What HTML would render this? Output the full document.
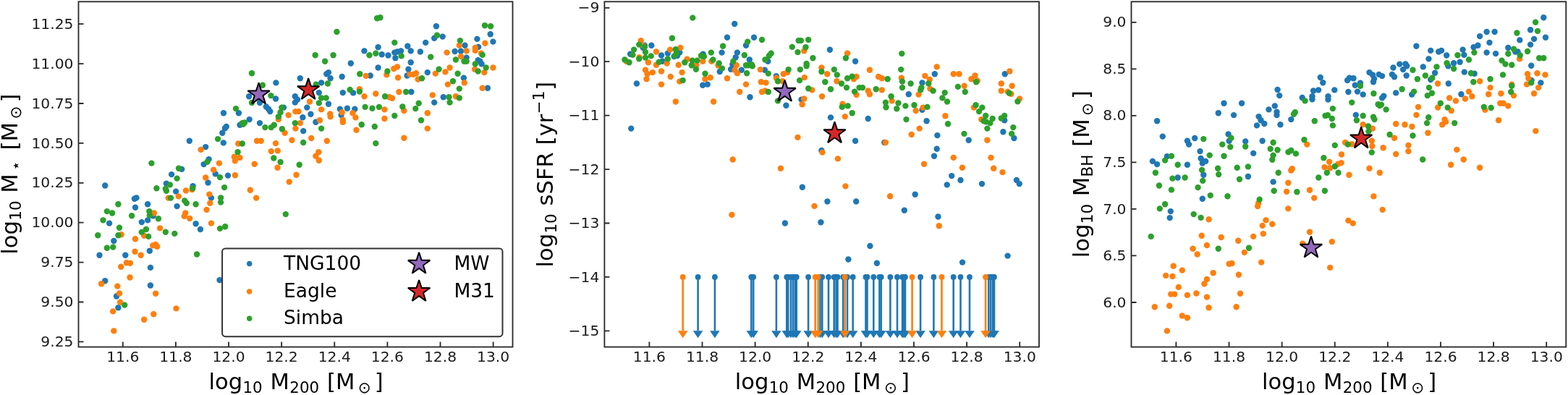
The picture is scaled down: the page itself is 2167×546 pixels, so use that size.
<!DOCTYPE html>
<html><head><meta charset="utf-8"><style>
html,body{margin:0;padding:0;background:#fff;}
svg{display:block;font-family:'DejaVu Sans', 'Liberation Sans', sans-serif;}
</style></head><body>
<svg width="2167" height="546" viewBox="0 0 2167 546">
<rect width="2167" height="546" fill="#fff"/>
<clipPath id="c0"><rect x="108.5" y="2.3" width="600.0" height="477.3"/></clipPath>
<g clip-path="url(#c0)">
<g fill="#1f77b4">
<circle cx="145.2" cy="256.5" r="4.2"/>
<circle cx="237.1" cy="241.1" r="4.2"/>
<circle cx="229.9" cy="253.6" r="4.2"/>
<circle cx="243.1" cy="264.6" r="4.2"/>
<circle cx="185.9" cy="274.7" r="4.2"/>
<circle cx="188.5" cy="273.4" r="4.2"/>
<circle cx="204.1" cy="282.2" r="4.2"/>
<circle cx="187.0" cy="286.8" r="4.2"/>
<circle cx="244.6" cy="285.1" r="4.2"/>
<circle cx="151.1" cy="308.6" r="4.2"/>
<circle cx="195.8" cy="307.1" r="4.2"/>
<circle cx="204.1" cy="304.4" r="4.2"/>
<circle cx="211.6" cy="298.3" r="4.2"/>
<circle cx="157.3" cy="333.0" r="4.2"/>
<circle cx="137.5" cy="352.8" r="4.2"/>
<circle cx="173.3" cy="352.8" r="4.2"/>
<circle cx="206.8" cy="346.7" r="4.2"/>
<circle cx="145.2" cy="388.2" r="4.2"/>
<circle cx="207.9" cy="369.9" r="4.2"/>
<circle cx="207.9" cy="394.5" r="4.2"/>
<circle cx="161.0" cy="409.5" r="4.2"/>
<circle cx="163.4" cy="425.3" r="4.2"/>
<circle cx="251.2" cy="233.9" r="4.2"/>
<circle cx="344.2" cy="133.2" r="4.2"/>
<circle cx="359.0" cy="142.0" r="4.2"/>
<circle cx="367.8" cy="147.5" r="4.2"/>
<circle cx="371.1" cy="150.8" r="4.2"/>
<circle cx="373.3" cy="154.1" r="4.2"/>
<circle cx="381.0" cy="136.5" r="4.2"/>
<circle cx="407.8" cy="133.2" r="4.2"/>
<circle cx="407.8" cy="141.6" r="4.2"/>
<circle cx="309.0" cy="156.3" r="4.2"/>
<circle cx="329.9" cy="156.3" r="4.2"/>
<circle cx="344.7" cy="165.1" r="4.2"/>
<circle cx="359.0" cy="170.1" r="4.2"/>
<circle cx="331.5" cy="172.8" r="4.2"/>
<circle cx="312.8" cy="175.0" r="4.2"/>
<circle cx="311.0" cy="177.2" r="4.2"/>
<circle cx="307.3" cy="183.8" r="4.2"/>
<circle cx="308.8" cy="197.4" r="4.2"/>
<circle cx="261.8" cy="194.8" r="4.2"/>
<circle cx="284.2" cy="203.1" r="4.2"/>
<circle cx="288.6" cy="220.1" r="4.2"/>
<circle cx="281.6" cy="227.1" r="4.2"/>
<circle cx="392.0" cy="148.6" r="4.2"/>
<circle cx="297.8" cy="240.4" r="4.2"/>
<circle cx="315.0" cy="242.6" r="4.2"/>
<circle cx="287.5" cy="252.5" r="4.2"/>
<circle cx="266.6" cy="257.2" r="4.2"/>
<circle cx="291.9" cy="273.6" r="4.2"/>
<circle cx="270.6" cy="309.3" r="4.2"/>
<circle cx="276.9" cy="317.0" r="4.2"/>
<circle cx="303.5" cy="387.1" r="4.2"/>
<circle cx="381.4" cy="114.4" r="4.2"/>
<circle cx="522.6" cy="65.3" r="4.2"/>
<circle cx="503.5" cy="70.4" r="4.2"/>
<circle cx="527.7" cy="75.2" r="4.2"/>
<circle cx="536.5" cy="76.5" r="4.2"/>
<circle cx="545.3" cy="72.6" r="4.2"/>
<circle cx="549.0" cy="71.5" r="4.2"/>
<circle cx="554.1" cy="70.4" r="4.2"/>
<circle cx="546.4" cy="80.3" r="4.2"/>
<circle cx="484.8" cy="87.5" r="4.2"/>
<circle cx="522.6" cy="93.5" r="4.2"/>
<circle cx="454.0" cy="100.1" r="4.2"/>
<circle cx="451.3" cy="102.3" r="4.2"/>
<circle cx="456.6" cy="108.2" r="4.2"/>
<circle cx="472.7" cy="106.0" r="4.2"/>
<circle cx="511.8" cy="104.5" r="4.2"/>
<circle cx="414.8" cy="108.2" r="4.2"/>
<circle cx="444.1" cy="114.4" r="4.2"/>
<circle cx="440.8" cy="128.1" r="4.2"/>
<circle cx="473.8" cy="128.1" r="4.2"/>
<circle cx="488.1" cy="128.4" r="4.2"/>
<circle cx="454.0" cy="143.8" r="4.2"/>
<circle cx="411.1" cy="137.6" r="4.2"/>
<circle cx="424.3" cy="148.6" r="4.2"/>
<circle cx="429.4" cy="157.8" r="4.2"/>
<circle cx="418.4" cy="162.2" r="4.2"/>
<circle cx="436.4" cy="168.8" r="4.2"/>
<circle cx="419.2" cy="181.1" r="4.2"/>
<circle cx="469.8" cy="150.8" r="4.2"/>
<circle cx="479.9" cy="149.7" r="4.2"/>
<circle cx="490.3" cy="150.8" r="4.2"/>
<circle cx="471.6" cy="159.1" r="4.2"/>
<circle cx="602.9" cy="36.3" r="4.2"/>
<circle cx="611.7" cy="50.6" r="4.2"/>
<circle cx="600.2" cy="52.8" r="4.2"/>
<circle cx="588.2" cy="58.9" r="4.2"/>
<circle cx="563.3" cy="63.8" r="4.2"/>
<circle cx="567.7" cy="70.4" r="4.2"/>
<circle cx="580.9" cy="71.5" r="4.2"/>
<circle cx="659.4" cy="53.9" r="4.2"/>
<circle cx="677.7" cy="47.3" r="4.2"/>
<circle cx="681.4" cy="57.6" r="4.2"/>
<circle cx="661.2" cy="64.9" r="4.2"/>
<circle cx="642.5" cy="62.7" r="4.2"/>
<circle cx="628.6" cy="71.0" r="4.2"/>
<circle cx="637.0" cy="70.8" r="4.2"/>
<circle cx="644.7" cy="79.6" r="4.2"/>
<circle cx="567.7" cy="86.2" r="4.2"/>
<circle cx="564.4" cy="95.7" r="4.2"/>
<circle cx="562.6" cy="104.5" r="4.2"/>
<circle cx="590.8" cy="100.1" r="4.2"/>
<circle cx="660.7" cy="83.1" r="4.2"/>
<circle cx="663.4" cy="84.7" r="4.2"/>
<circle cx="665.6" cy="88.4" r="4.2"/>
<circle cx="640.9" cy="107.8" r="4.2"/>
<circle cx="568.4" cy="127.0" r="4.2"/>
<circle cx="612.8" cy="134.3" r="4.2"/>
<circle cx="600.2" cy="141.6" r="4.2"/>
<circle cx="673.9" cy="121.8" r="4.2"/>
</g>
<g fill="#ff7f0e">
<circle cx="256.9" cy="263.5" r="4.2"/>
<circle cx="246.8" cy="271.4" r="4.2"/>
<circle cx="232.7" cy="273.6" r="4.2"/>
<circle cx="212.9" cy="294.5" r="4.2"/>
<circle cx="256.3" cy="294.5" r="4.2"/>
<circle cx="254.7" cy="298.9" r="4.2"/>
<circle cx="221.1" cy="315.4" r="4.2"/>
<circle cx="167.6" cy="324.2" r="4.2"/>
<circle cx="187.0" cy="330.2" r="4.2"/>
<circle cx="199.1" cy="325.8" r="4.2"/>
<circle cx="211.2" cy="339.4" r="4.2"/>
<circle cx="215.1" cy="337.9" r="4.2"/>
<circle cx="217.1" cy="340.7" r="4.2"/>
<circle cx="186.5" cy="347.8" r="4.2"/>
<circle cx="194.7" cy="352.8" r="4.2"/>
<circle cx="140.1" cy="392.3" r="4.2"/>
<circle cx="167.2" cy="368.8" r="4.2"/>
<circle cx="174.9" cy="363.3" r="4.2"/>
<circle cx="179.9" cy="363.7" r="4.2"/>
<circle cx="179.5" cy="383.5" r="4.2"/>
<circle cx="162.3" cy="395.6" r="4.2"/>
<circle cx="165.0" cy="405.5" r="4.2"/>
<circle cx="166.1" cy="417.8" r="4.2"/>
<circle cx="156.2" cy="430.4" r="4.2"/>
<circle cx="212.3" cy="434.3" r="4.2"/>
<circle cx="199.1" cy="441.8" r="4.2"/>
<circle cx="157.3" cy="457.4" r="4.2"/>
<circle cx="215.1" cy="405.7" r="4.2"/>
<circle cx="243.5" cy="426.4" r="4.2"/>
<circle cx="398.6" cy="159.1" r="4.2"/>
<circle cx="408.4" cy="154.1" r="4.2"/>
<circle cx="384.9" cy="165.1" r="4.2"/>
<circle cx="408.4" cy="177.6" r="4.2"/>
<circle cx="393.7" cy="183.8" r="4.2"/>
<circle cx="403.4" cy="193.7" r="4.2"/>
<circle cx="355.0" cy="194.8" r="4.2"/>
<circle cx="360.7" cy="194.8" r="4.2"/>
<circle cx="329.3" cy="198.5" r="4.2"/>
<circle cx="381.0" cy="198.1" r="4.2"/>
<circle cx="277.6" cy="206.9" r="4.2"/>
<circle cx="374.8" cy="209.1" r="4.2"/>
<circle cx="383.8" cy="208.4" r="4.2"/>
<circle cx="323.8" cy="216.8" r="4.2"/>
<circle cx="331.5" cy="217.9" r="4.2"/>
<circle cx="324.9" cy="222.3" r="4.2"/>
<circle cx="302.9" cy="225.6" r="4.2"/>
<circle cx="351.7" cy="226.7" r="4.2"/>
<circle cx="383.6" cy="231.7" r="4.2"/>
<circle cx="295.2" cy="234.8" r="4.2"/>
<circle cx="284.2" cy="245.5" r="4.2"/>
<circle cx="324.9" cy="242.2" r="4.2"/>
<circle cx="265.5" cy="262.0" r="4.2"/>
<circle cx="289.3" cy="268.6" r="4.2"/>
<circle cx="290.3" cy="280.7" r="4.2"/>
<circle cx="285.5" cy="289.9" r="4.2"/>
<circle cx="262.2" cy="302.0" r="4.2"/>
<circle cx="291.9" cy="308.6" r="4.2"/>
<circle cx="345.8" cy="262.7" r="4.2"/>
<circle cx="354.1" cy="273.6" r="4.2"/>
<circle cx="399.7" cy="251.4" r="4.2"/>
<circle cx="409.5" cy="241.8" r="4.2"/>
<circle cx="505.7" cy="104.9" r="4.2"/>
<circle cx="534.3" cy="103.4" r="4.2"/>
<circle cx="544.2" cy="95.0" r="4.2"/>
<circle cx="549.0" cy="92.4" r="4.2"/>
<circle cx="550.1" cy="107.3" r="4.2"/>
<circle cx="428.0" cy="140.5" r="4.2"/>
<circle cx="444.1" cy="151.4" r="4.2"/>
<circle cx="412.6" cy="154.1" r="4.2"/>
<circle cx="456.2" cy="157.4" r="4.2"/>
<circle cx="456.6" cy="161.3" r="4.2"/>
<circle cx="441.9" cy="166.2" r="4.2"/>
<circle cx="414.8" cy="170.1" r="4.2"/>
<circle cx="472.7" cy="155.2" r="4.2"/>
<circle cx="473.8" cy="165.7" r="4.2"/>
<circle cx="473.8" cy="168.8" r="4.2"/>
<circle cx="487.4" cy="156.3" r="4.2"/>
<circle cx="491.4" cy="162.4" r="4.2"/>
<circle cx="503.5" cy="133.2" r="4.2"/>
<circle cx="519.3" cy="129.5" r="4.2"/>
<circle cx="496.9" cy="123.3" r="4.2"/>
<circle cx="538.2" cy="134.3" r="4.2"/>
<circle cx="542.0" cy="135.8" r="4.2"/>
<circle cx="551.4" cy="127.0" r="4.2"/>
<circle cx="531.4" cy="151.4" r="4.2"/>
<circle cx="531.4" cy="164.0" r="4.2"/>
<circle cx="492.5" cy="179.8" r="4.2"/>
<circle cx="430.2" cy="191.0" r="4.2"/>
<circle cx="451.8" cy="194.8" r="4.2"/>
<circle cx="440.3" cy="210.2" r="4.2"/>
<circle cx="436.4" cy="215.7" r="4.2"/>
<circle cx="440.8" cy="221.8" r="4.2"/>
<circle cx="558.4" cy="190.8" r="4.2"/>
<circle cx="558.4" cy="153.0" r="4.2"/>
<circle cx="634.8" cy="62.7" r="4.2"/>
<circle cx="644.7" cy="70.4" r="4.2"/>
<circle cx="617.6" cy="72.6" r="4.2"/>
<circle cx="656.8" cy="66.0" r="4.2"/>
<circle cx="656.8" cy="69.9" r="4.2"/>
<circle cx="670.4" cy="59.8" r="4.2"/>
<circle cx="665.1" cy="73.7" r="4.2"/>
<circle cx="637.0" cy="78.1" r="4.2"/>
<circle cx="621.6" cy="93.5" r="4.2"/>
<circle cx="615.4" cy="99.4" r="4.2"/>
<circle cx="601.8" cy="101.6" r="4.2"/>
<circle cx="566.6" cy="102.9" r="4.2"/>
<circle cx="571.0" cy="102.9" r="4.2"/>
<circle cx="575.0" cy="101.2" r="4.2"/>
<circle cx="577.6" cy="109.5" r="4.2"/>
<circle cx="656.1" cy="95.7" r="4.2"/>
<circle cx="669.3" cy="100.1" r="4.2"/>
<circle cx="681.4" cy="93.5" r="4.2"/>
<circle cx="641.8" cy="114.4" r="4.2"/>
<circle cx="618.9" cy="116.6" r="4.2"/>
<circle cx="597.8" cy="131.4" r="4.2"/>
<circle cx="629.9" cy="133.2" r="4.2"/>
<circle cx="590.8" cy="156.3" r="4.2"/>
<circle cx="590.8" cy="177.6" r="4.2"/>
<circle cx="666.7" cy="121.8" r="4.2"/>
</g>
<g fill="#2ca02c">
<circle cx="244.6" cy="246.6" r="4.2"/>
<circle cx="234.9" cy="255.4" r="4.2"/>
<circle cx="216.4" cy="260.2" r="4.2"/>
<circle cx="228.8" cy="260.9" r="4.2"/>
<circle cx="229.9" cy="263.8" r="4.2"/>
<circle cx="236.0" cy="273.6" r="4.2"/>
<circle cx="255.2" cy="277.4" r="4.2"/>
<circle cx="257.8" cy="280.7" r="4.2"/>
<circle cx="163.4" cy="282.2" r="4.2"/>
<circle cx="147.8" cy="292.1" r="4.2"/>
<circle cx="155.1" cy="294.5" r="4.2"/>
<circle cx="182.1" cy="298.3" r="4.2"/>
<circle cx="142.5" cy="304.4" r="4.2"/>
<circle cx="206.3" cy="292.1" r="4.2"/>
<circle cx="206.8" cy="297.8" r="4.2"/>
<circle cx="218.9" cy="302.2" r="4.2"/>
<circle cx="165.0" cy="314.8" r="4.2"/>
<circle cx="201.9" cy="317.0" r="4.2"/>
<circle cx="195.8" cy="320.9" r="4.2"/>
<circle cx="135.3" cy="325.3" r="4.2"/>
<circle cx="163.4" cy="325.3" r="4.2"/>
<circle cx="205.2" cy="326.9" r="4.2"/>
<circle cx="228.8" cy="320.7" r="4.2"/>
<circle cx="241.3" cy="322.9" r="4.2"/>
<circle cx="147.8" cy="342.7" r="4.2"/>
<circle cx="156.2" cy="341.6" r="4.2"/>
<circle cx="172.2" cy="421.6" r="4.2"/>
<circle cx="209.4" cy="225.6" r="4.2"/>
<circle cx="247.0" cy="232.8" r="4.2"/>
<circle cx="326.0" cy="150.1" r="4.2"/>
<circle cx="374.4" cy="132.1" r="4.2"/>
<circle cx="348.0" cy="142.0" r="4.2"/>
<circle cx="389.3" cy="148.6" r="4.2"/>
<circle cx="387.6" cy="155.2" r="4.2"/>
<circle cx="384.9" cy="161.3" r="4.2"/>
<circle cx="334.8" cy="170.1" r="4.2"/>
<circle cx="338.1" cy="169.5" r="4.2"/>
<circle cx="335.9" cy="171.7" r="4.2"/>
<circle cx="366.4" cy="176.1" r="4.2"/>
<circle cx="374.8" cy="176.1" r="4.2"/>
<circle cx="378.8" cy="172.8" r="4.2"/>
<circle cx="389.8" cy="178.3" r="4.2"/>
<circle cx="407.8" cy="170.1" r="4.2"/>
<circle cx="301.1" cy="192.1" r="4.2"/>
<circle cx="334.8" cy="198.5" r="4.2"/>
<circle cx="328.6" cy="210.2" r="4.2"/>
<circle cx="378.3" cy="218.5" r="4.2"/>
<circle cx="387.6" cy="224.0" r="4.2"/>
<circle cx="286.4" cy="223.8" r="4.2"/>
<circle cx="304.0" cy="245.1" r="4.2"/>
<circle cx="310.1" cy="259.1" r="4.2"/>
<circle cx="266.2" cy="260.2" r="4.2"/>
<circle cx="305.1" cy="273.4" r="4.2"/>
<circle cx="305.1" cy="279.6" r="4.2"/>
<circle cx="270.6" cy="282.2" r="4.2"/>
<circle cx="394.8" cy="296.1" r="4.2"/>
<circle cx="304.0" cy="315.9" r="4.2"/>
<circle cx="311.2" cy="313.2" r="4.2"/>
<circle cx="272.1" cy="351.5" r="4.2"/>
<circle cx="348.0" cy="101.2" r="4.2"/>
<circle cx="362.9" cy="117.7" r="4.2"/>
<circle cx="521.1" cy="25.3" r="4.2"/>
<circle cx="525.5" cy="24.2" r="4.2"/>
<circle cx="465.4" cy="44.0" r="4.2"/>
<circle cx="545.3" cy="58.9" r="4.2"/>
<circle cx="435.7" cy="76.3" r="4.2"/>
<circle cx="460.6" cy="76.3" r="4.2"/>
<circle cx="449.1" cy="84.7" r="4.2"/>
<circle cx="510.5" cy="76.3" r="4.2"/>
<circle cx="519.3" cy="73.7" r="4.2"/>
<circle cx="554.7" cy="77.4" r="4.2"/>
<circle cx="497.3" cy="102.3" r="4.2"/>
<circle cx="535.4" cy="98.5" r="4.2"/>
<circle cx="452.9" cy="115.5" r="4.2"/>
<circle cx="436.8" cy="116.6" r="4.2"/>
<circle cx="444.1" cy="135.4" r="4.2"/>
<circle cx="450.7" cy="135.4" r="4.2"/>
<circle cx="440.8" cy="142.4" r="4.2"/>
<circle cx="483.7" cy="124.0" r="4.2"/>
<circle cx="496.9" cy="126.6" r="4.2"/>
<circle cx="532.1" cy="133.2" r="4.2"/>
<circle cx="504.6" cy="147.9" r="4.2"/>
<circle cx="514.5" cy="149.7" r="4.2"/>
<circle cx="523.9" cy="147.9" r="4.2"/>
<circle cx="556.3" cy="147.5" r="4.2"/>
<circle cx="545.3" cy="160.0" r="4.2"/>
<circle cx="499.7" cy="172.3" r="4.2"/>
<circle cx="517.8" cy="175.0" r="4.2"/>
<circle cx="444.1" cy="177.6" r="4.2"/>
<circle cx="419.2" cy="197.0" r="4.2"/>
<circle cx="519.3" cy="198.1" r="4.2"/>
<circle cx="413.7" cy="227.8" r="4.2"/>
<circle cx="604.0" cy="48.8" r="4.2"/>
<circle cx="635.9" cy="56.1" r="4.2"/>
<circle cx="670.0" cy="35.2" r="4.2"/>
<circle cx="678.1" cy="36.3" r="4.2"/>
<circle cx="595.2" cy="78.7" r="4.2"/>
<circle cx="629.9" cy="82.5" r="4.2"/>
<circle cx="641.4" cy="84.7" r="4.2"/>
<circle cx="644.7" cy="84.7" r="4.2"/>
<circle cx="666.7" cy="75.9" r="4.2"/>
<circle cx="656.8" cy="88.4" r="4.2"/>
<circle cx="660.7" cy="98.5" r="4.2"/>
<circle cx="671.7" cy="93.5" r="4.2"/>
<circle cx="606.6" cy="95.7" r="4.2"/>
<circle cx="583.1" cy="108.2" r="4.2"/>
<circle cx="632.6" cy="101.8" r="4.2"/>
<circle cx="626.0" cy="112.2" r="4.2"/>
<circle cx="561.1" cy="127.0" r="4.2"/>
<circle cx="634.8" cy="122.6" r="4.2"/>
<circle cx="620.5" cy="134.3" r="4.2"/>
<circle cx="634.8" cy="135.4" r="4.2"/>
<circle cx="621.6" cy="141.6" r="4.2"/>
<circle cx="578.7" cy="142.7" r="4.2"/>
<circle cx="574.3" cy="150.1" r="4.2"/>
<circle cx="582.0" cy="166.2" r="4.2"/>
</g>
</g>
<clipPath id="c1"><rect x="835.4" y="2.3" width="600.6" height="477.3"/></clipPath>
<g clip-path="url(#c1)">
<g fill="#1f77b4">
<circle cx="900.3" cy="62.7" r="4.2"/>
<circle cx="890.9" cy="62.7" r="4.2"/>
<circle cx="888.7" cy="66.0" r="4.2"/>
<circle cx="871.1" cy="74.8" r="4.2"/>
<circle cx="914.0" cy="76.5" r="4.2"/>
<circle cx="915.5" cy="84.7" r="4.2"/>
<circle cx="922.8" cy="73.7" r="4.2"/>
<circle cx="931.6" cy="78.1" r="4.2"/>
<circle cx="936.0" cy="77.0" r="4.2"/>
<circle cx="939.3" cy="72.6" r="4.2"/>
<circle cx="971.6" cy="74.8" r="4.2"/>
<circle cx="879.9" cy="115.5" r="4.2"/>
<circle cx="971.2" cy="117.7" r="4.2"/>
<circle cx="977.8" cy="116.6" r="4.2"/>
<circle cx="1015.2" cy="33.0" r="4.2"/>
<circle cx="1005.0" cy="51.7" r="4.2"/>
<circle cx="1042.0" cy="51.7" r="4.2"/>
<circle cx="1031.0" cy="62.7" r="4.2"/>
<circle cx="997.6" cy="72.6" r="4.2"/>
<circle cx="1018.9" cy="72.6" r="4.2"/>
<circle cx="1016.7" cy="79.2" r="4.2"/>
<circle cx="1035.8" cy="82.5" r="4.2"/>
<circle cx="1012.3" cy="89.1" r="4.2"/>
<circle cx="1010.1" cy="95.7" r="4.2"/>
<circle cx="994.7" cy="99.0" r="4.2"/>
<circle cx="1024.8" cy="96.8" r="4.2"/>
<circle cx="1056.9" cy="96.8" r="4.2"/>
<circle cx="1061.3" cy="84.7" r="4.2"/>
<circle cx="1072.8" cy="105.1" r="4.2"/>
<circle cx="1146.9" cy="68.8" r="4.2"/>
<circle cx="1182.1" cy="84.7" r="4.2"/>
<circle cx="1274.5" cy="114.4" r="4.2"/>
<circle cx="1291.8" cy="102.3" r="4.2"/>
<circle cx="1388.8" cy="102.3" r="4.2"/>
<circle cx="872.2" cy="177.6" r="4.2"/>
<circle cx="1036.5" cy="134.3" r="4.2"/>
<circle cx="1086.4" cy="145.7" r="4.2"/>
<circle cx="1107.5" cy="137.6" r="4.2"/>
<circle cx="1135.4" cy="208.0" r="4.2"/>
<circle cx="1255.8" cy="130.3" r="4.2"/>
<circle cx="1148.0" cy="162.4" r="4.2"/>
<circle cx="1199.7" cy="164.0" r="4.2"/>
<circle cx="1182.1" cy="194.8" r="4.2"/>
<circle cx="1222.3" cy="197.0" r="4.2"/>
<circle cx="1274.5" cy="151.9" r="4.2"/>
<circle cx="1280.6" cy="167.3" r="4.2"/>
<circle cx="1295.4" cy="187.1" r="4.2"/>
<circle cx="1338.7" cy="193.7" r="4.2"/>
<circle cx="1294.7" cy="205.8" r="4.2"/>
<circle cx="1291.0" cy="215.7" r="4.2"/>
<circle cx="1386.4" cy="182.2" r="4.2"/>
<circle cx="1401.4" cy="191.0" r="4.2"/>
<circle cx="1388.2" cy="166.2" r="4.2"/>
<circle cx="1108.8" cy="258.7" r="4.2"/>
<circle cx="1084.9" cy="308.5" r="4.2"/>
<circle cx="1134.4" cy="307.2" r="4.2"/>
<circle cx="1143.4" cy="278.5" r="4.2"/>
<circle cx="1183.2" cy="278.5" r="4.2"/>
<circle cx="1249.8" cy="290.8" r="4.2"/>
<circle cx="1264.7" cy="268.7" r="4.2"/>
<circle cx="1308.8" cy="255.4" r="4.2"/>
<circle cx="1315.2" cy="243.1" r="4.2"/>
<circle cx="1327.5" cy="249.0" r="4.2"/>
<circle cx="1357.0" cy="254.1" r="4.2"/>
<circle cx="1404.9" cy="249.0" r="4.2"/>
<circle cx="1408.8" cy="254.1" r="4.2"/>
<circle cx="1296.5" cy="299.5" r="4.2"/>
<circle cx="1202.4" cy="340.0" r="4.2"/>
<circle cx="1172.4" cy="358.5" r="4.2"/>
<circle cx="1211.9" cy="363.8" r="4.2"/>
<circle cx="1330.1" cy="362.6" r="4.2"/>
<circle cx="1392.6" cy="353.6" r="4.2"/>
</g>
<g fill="#ff7f0e">
<circle cx="885.8" cy="56.1" r="4.2"/>
<circle cx="889.8" cy="63.8" r="4.2"/>
<circle cx="906.9" cy="71.5" r="4.2"/>
<circle cx="926.1" cy="68.6" r="4.2"/>
<circle cx="940.4" cy="66.0" r="4.2"/>
<circle cx="883.6" cy="79.2" r="4.2"/>
<circle cx="895.9" cy="86.2" r="4.2"/>
<circle cx="906.9" cy="89.7" r="4.2"/>
<circle cx="921.7" cy="87.5" r="4.2"/>
<circle cx="892.0" cy="96.8" r="4.2"/>
<circle cx="894.6" cy="102.3" r="4.2"/>
<circle cx="901.9" cy="100.1" r="4.2"/>
<circle cx="914.0" cy="98.5" r="4.2"/>
<circle cx="893.5" cy="109.3" r="4.2"/>
<circle cx="926.7" cy="106.0" r="4.2"/>
<circle cx="937.7" cy="89.7" r="4.2"/>
<circle cx="942.6" cy="100.1" r="4.2"/>
<circle cx="939.3" cy="112.6" r="4.2"/>
<circle cx="949.6" cy="81.8" r="4.2"/>
<circle cx="962.4" cy="90.2" r="4.2"/>
<circle cx="971.2" cy="84.7" r="4.2"/>
<circle cx="983.3" cy="84.7" r="4.2"/>
<circle cx="974.5" cy="109.3" r="4.2"/>
<circle cx="981.7" cy="107.3" r="4.2"/>
<circle cx="914.0" cy="116.6" r="4.2"/>
<circle cx="865.6" cy="84.7" r="4.2"/>
<circle cx="1017.8" cy="90.2" r="4.2"/>
<circle cx="1015.6" cy="96.8" r="4.2"/>
<circle cx="1018.9" cy="101.2" r="4.2"/>
<circle cx="992.5" cy="90.6" r="4.2"/>
<circle cx="1005.0" cy="108.2" r="4.2"/>
<circle cx="1050.8" cy="96.1" r="4.2"/>
<circle cx="1082.7" cy="102.3" r="4.2"/>
<circle cx="1088.2" cy="100.1" r="4.2"/>
<circle cx="1111.3" cy="70.4" r="4.2"/>
<circle cx="1111.9" cy="107.1" r="4.2"/>
<circle cx="1072.8" cy="107.8" r="4.2"/>
<circle cx="1081.6" cy="112.2" r="4.2"/>
<circle cx="1051.9" cy="113.3" r="4.2"/>
<circle cx="1058.5" cy="114.4" r="4.2"/>
<circle cx="1031.0" cy="116.6" r="4.2"/>
<circle cx="1135.4" cy="93.5" r="4.2"/>
<circle cx="1171.1" cy="73.7" r="4.2"/>
<circle cx="1143.2" cy="102.3" r="4.2"/>
<circle cx="1156.4" cy="112.2" r="4.2"/>
<circle cx="1179.9" cy="109.3" r="4.2"/>
<circle cx="1183.6" cy="106.0" r="4.2"/>
<circle cx="1201.9" cy="96.8" r="4.2"/>
<circle cx="1214.0" cy="106.0" r="4.2"/>
<circle cx="1218.8" cy="108.2" r="4.2"/>
<circle cx="1245.9" cy="107.8" r="4.2"/>
<circle cx="1278.4" cy="104.9" r="4.2"/>
<circle cx="1284.8" cy="110.0" r="4.2"/>
<circle cx="1294.7" cy="92.4" r="4.2"/>
<circle cx="1317.8" cy="102.3" r="4.2"/>
<circle cx="1325.5" cy="102.3" r="4.2"/>
<circle cx="1347.5" cy="104.5" r="4.2"/>
<circle cx="1342.4" cy="109.3" r="4.2"/>
<circle cx="1350.8" cy="111.7" r="4.2"/>
<circle cx="1395.4" cy="98.5" r="4.2"/>
<circle cx="1383.8" cy="115.5" r="4.2"/>
<circle cx="1398.7" cy="118.8" r="4.2"/>
<circle cx="1332.7" cy="118.8" r="4.2"/>
<circle cx="933.8" cy="140.5" r="4.2"/>
<circle cx="986.1" cy="140.5" r="4.2"/>
<circle cx="1022.2" cy="127.0" r="4.2"/>
<circle cx="1053.0" cy="127.0" r="4.2"/>
<circle cx="1057.4" cy="125.5" r="4.2"/>
<circle cx="1111.3" cy="136.5" r="4.2"/>
<circle cx="1108.6" cy="144.2" r="4.2"/>
<circle cx="1122.3" cy="124.4" r="4.2"/>
<circle cx="1102.5" cy="189.9" r="4.2"/>
<circle cx="1012.7" cy="220.5" r="4.2"/>
<circle cx="1078.9" cy="232.8" r="4.2"/>
<circle cx="1136.5" cy="210.6" r="4.2"/>
<circle cx="1136.1" cy="133.2" r="4.2"/>
<circle cx="1183.6" cy="131.0" r="4.2"/>
<circle cx="1199.7" cy="125.5" r="4.2"/>
<circle cx="1201.9" cy="130.3" r="4.2"/>
<circle cx="1218.8" cy="124.4" r="4.2"/>
<circle cx="1232.7" cy="139.4" r="4.2"/>
<circle cx="1269.6" cy="130.6" r="4.2"/>
<circle cx="1164.5" cy="143.8" r="4.2"/>
<circle cx="1167.8" cy="161.1" r="4.2"/>
<circle cx="1265.7" cy="153.0" r="4.2"/>
<circle cx="1275.6" cy="148.6" r="4.2"/>
<circle cx="1270.7" cy="177.6" r="4.2"/>
<circle cx="1259.7" cy="186.0" r="4.2"/>
<circle cx="1223.9" cy="197.0" r="4.2"/>
<circle cx="1157.9" cy="219.4" r="4.2"/>
<circle cx="1277.1" cy="226.7" r="4.2"/>
<circle cx="1285.4" cy="122.6" r="4.2"/>
<circle cx="1383.8" cy="125.5" r="4.2"/>
<circle cx="1392.6" cy="126.6" r="4.2"/>
<circle cx="1397.4" cy="129.9" r="4.2"/>
<circle cx="1409.1" cy="136.5" r="4.2"/>
<circle cx="1345.9" cy="148.6" r="4.2"/>
<circle cx="1356.3" cy="165.1" r="4.2"/>
<circle cx="1306.4" cy="160.2" r="4.2"/>
<circle cx="1364.4" cy="193.7" r="4.2"/>
<circle cx="1317.8" cy="217.9" r="4.2"/>
<circle cx="1369.5" cy="217.9" r="4.2"/>
<circle cx="1329.9" cy="231.7" r="4.2"/>
<circle cx="1373.2" cy="232.8" r="4.2"/>
<circle cx="1385.5" cy="238.1" r="4.2"/>
<circle cx="1011.4" cy="296.9" r="4.2"/>
<circle cx="1125.5" cy="284.9" r="4.2"/>
<circle cx="1168.5" cy="257.4" r="4.2"/>
<circle cx="1230.1" cy="271.3" r="4.2"/>
<circle cx="1297.8" cy="312.3" r="4.2"/>
</g>
<g fill="#2ca02c">
<circle cx="957.3" cy="24.6" r="4.2"/>
<circle cx="928.9" cy="52.8" r="4.2"/>
<circle cx="883.2" cy="61.6" r="4.2"/>
<circle cx="890.9" cy="64.9" r="4.2"/>
<circle cx="876.1" cy="68.6" r="4.2"/>
<circle cx="874.4" cy="75.9" r="4.2"/>
<circle cx="892.0" cy="72.1" r="4.2"/>
<circle cx="892.0" cy="79.6" r="4.2"/>
<circle cx="883.2" cy="81.4" r="4.2"/>
<circle cx="899.7" cy="77.4" r="4.2"/>
<circle cx="863.4" cy="82.5" r="4.2"/>
<circle cx="869.5" cy="86.2" r="4.2"/>
<circle cx="910.7" cy="85.8" r="4.2"/>
<circle cx="922.8" cy="81.4" r="4.2"/>
<circle cx="933.8" cy="68.2" r="4.2"/>
<circle cx="934.9" cy="73.7" r="4.2"/>
<circle cx="932.7" cy="77.0" r="4.2"/>
<circle cx="946.3" cy="86.2" r="4.2"/>
<circle cx="956.9" cy="83.6" r="4.2"/>
<circle cx="963.5" cy="83.6" r="4.2"/>
<circle cx="955.8" cy="90.2" r="4.2"/>
<circle cx="961.9" cy="95.7" r="4.2"/>
<circle cx="969.0" cy="77.0" r="4.2"/>
<circle cx="972.9" cy="78.1" r="4.2"/>
<circle cx="982.8" cy="72.6" r="4.2"/>
<circle cx="985.4" cy="82.5" r="4.2"/>
<circle cx="974.5" cy="101.8" r="4.2"/>
<circle cx="943.7" cy="111.1" r="4.2"/>
<circle cx="1033.2" cy="57.6" r="4.2"/>
<circle cx="1053.0" cy="55.0" r="4.2"/>
<circle cx="999.1" cy="63.8" r="4.2"/>
<circle cx="1028.8" cy="76.3" r="4.2"/>
<circle cx="1013.4" cy="84.7" r="4.2"/>
<circle cx="993.6" cy="87.5" r="4.2"/>
<circle cx="998.0" cy="94.6" r="4.2"/>
<circle cx="1031.0" cy="90.2" r="4.2"/>
<circle cx="1034.3" cy="90.2" r="4.2"/>
<circle cx="1038.7" cy="89.1" r="4.2"/>
<circle cx="1039.8" cy="91.3" r="4.2"/>
<circle cx="1032.1" cy="101.2" r="4.2"/>
<circle cx="1057.4" cy="82.5" r="4.2"/>
<circle cx="1062.9" cy="77.0" r="4.2"/>
<circle cx="1065.7" cy="73.7" r="4.2"/>
<circle cx="1061.8" cy="101.6" r="4.2"/>
<circle cx="1075.0" cy="112.2" r="4.2"/>
<circle cx="1089.7" cy="96.1" r="4.2"/>
<circle cx="1094.8" cy="64.9" r="4.2"/>
<circle cx="1102.5" cy="72.1" r="4.2"/>
<circle cx="1103.6" cy="56.1" r="4.2"/>
<circle cx="1106.9" cy="56.1" r="4.2"/>
<circle cx="1117.2" cy="55.0" r="4.2"/>
<circle cx="1113.5" cy="65.3" r="4.2"/>
<circle cx="1123.4" cy="80.3" r="4.2"/>
<circle cx="1114.6" cy="88.0" r="4.2"/>
<circle cx="1114.6" cy="91.3" r="4.2"/>
<circle cx="1105.8" cy="96.1" r="4.2"/>
<circle cx="1105.1" cy="111.1" r="4.2"/>
<circle cx="1135.4" cy="99.0" r="4.2"/>
<circle cx="1168.9" cy="80.3" r="4.2"/>
<circle cx="1152.8" cy="96.1" r="4.2"/>
<circle cx="1156.8" cy="103.4" r="4.2"/>
<circle cx="1140.3" cy="113.3" r="4.2"/>
<circle cx="1163.0" cy="115.5" r="4.2"/>
<circle cx="1171.1" cy="108.2" r="4.2"/>
<circle cx="1177.7" cy="105.6" r="4.2"/>
<circle cx="1226.7" cy="109.3" r="4.2"/>
<circle cx="1246.3" cy="74.1" r="4.2"/>
<circle cx="1245.2" cy="96.1" r="4.2"/>
<circle cx="1247.0" cy="112.6" r="4.2"/>
<circle cx="1258.6" cy="115.5" r="4.2"/>
<circle cx="1283.3" cy="115.5" r="4.2"/>
<circle cx="1349.0" cy="113.3" r="4.2"/>
<circle cx="1323.9" cy="119.9" r="4.2"/>
<circle cx="1061.8" cy="127.0" r="4.2"/>
<circle cx="1075.0" cy="139.4" r="4.2"/>
<circle cx="1117.2" cy="122.2" r="4.2"/>
<circle cx="1148.0" cy="123.3" r="4.2"/>
<circle cx="1170.0" cy="121.1" r="4.2"/>
<circle cx="1181.0" cy="126.6" r="4.2"/>
<circle cx="1187.6" cy="121.1" r="4.2"/>
<circle cx="1192.0" cy="121.1" r="4.2"/>
<circle cx="1210.7" cy="123.3" r="4.2"/>
<circle cx="1231.6" cy="133.2" r="4.2"/>
<circle cx="1223.9" cy="141.6" r="4.2"/>
<circle cx="1224.5" cy="148.2" r="4.2"/>
<circle cx="1241.5" cy="142.4" r="4.2"/>
<circle cx="1239.3" cy="150.3" r="4.2"/>
<circle cx="1251.4" cy="146.4" r="4.2"/>
<circle cx="1263.5" cy="145.3" r="4.2"/>
<circle cx="1281.5" cy="147.9" r="4.2"/>
<circle cx="1252.5" cy="165.1" r="4.2"/>
<circle cx="1163.8" cy="147.9" r="4.2"/>
<circle cx="1171.7" cy="146.4" r="4.2"/>
<circle cx="1177.7" cy="156.3" r="4.2"/>
<circle cx="1247.0" cy="121.1" r="4.2"/>
<circle cx="1272.3" cy="124.4" r="4.2"/>
<circle cx="1273.4" cy="121.1" r="4.2"/>
<circle cx="1289.6" cy="125.5" r="4.2"/>
<circle cx="1305.7" cy="128.1" r="4.2"/>
<circle cx="1302.4" cy="135.4" r="4.2"/>
<circle cx="1309.0" cy="140.5" r="4.2"/>
<circle cx="1333.8" cy="127.0" r="4.2"/>
<circle cx="1348.6" cy="145.3" r="4.2"/>
<circle cx="1357.4" cy="148.6" r="4.2"/>
<circle cx="1353.0" cy="154.1" r="4.2"/>
<circle cx="1362.2" cy="160.0" r="4.2"/>
<circle cx="1359.6" cy="167.3" r="4.2"/>
<circle cx="1362.9" cy="168.4" r="4.2"/>
<circle cx="1371.7" cy="164.0" r="4.2"/>
<circle cx="1368.4" cy="170.1" r="4.2"/>
<circle cx="1364.4" cy="177.6" r="4.2"/>
<circle cx="1383.8" cy="163.5" r="4.2"/>
<circle cx="1388.2" cy="160.0" r="4.2"/>
<circle cx="1400.3" cy="176.1" r="4.2"/>
<circle cx="1398.1" cy="184.9" r="4.2"/>
<circle cx="1332.5" cy="184.9" r="4.2"/>
<circle cx="1310.1" cy="171.2" r="4.2"/>
<circle cx="1394.8" cy="128.8" r="4.2"/>
<circle cx="1406.4" cy="140.2" r="4.2"/>
</g>
</g>
<clipPath id="c2"><rect x="1563.5" y="2.3" width="600.8000000000002" height="477.3"/></clipPath>
<g clip-path="url(#c2)">
<g fill="#1f77b4">
<circle cx="1691.5" cy="142.7" r="4.2"/>
<circle cx="1683.8" cy="156.3" r="4.2"/>
<circle cx="1705.1" cy="159.1" r="4.2"/>
<circle cx="1599.1" cy="167.3" r="4.2"/>
<circle cx="1606.8" cy="188.6" r="4.2"/>
<circle cx="1640.9" cy="194.8" r="4.2"/>
<circle cx="1643.1" cy="199.6" r="4.2"/>
<circle cx="1651.2" cy="191.0" r="4.2"/>
<circle cx="1697.6" cy="185.5" r="4.2"/>
<circle cx="1698.7" cy="194.8" r="4.2"/>
<circle cx="1658.5" cy="209.1" r="4.2"/>
<circle cx="1659.6" cy="219.0" r="4.2"/>
<circle cx="1662.9" cy="223.4" r="4.2"/>
<circle cx="1666.2" cy="222.9" r="4.2"/>
<circle cx="1661.8" cy="225.6" r="4.2"/>
<circle cx="1612.9" cy="216.1" r="4.2"/>
<circle cx="1592.9" cy="222.9" r="4.2"/>
<circle cx="1599.1" cy="227.1" r="4.2"/>
<circle cx="1640.9" cy="227.8" r="4.2"/>
<circle cx="1627.7" cy="245.5" r="4.2"/>
<circle cx="1663.3" cy="241.8" r="4.2"/>
<circle cx="1661.8" cy="274.7" r="4.2"/>
<circle cx="1617.8" cy="292.1" r="4.2"/>
<circle cx="1616.7" cy="301.1" r="4.2"/>
<circle cx="1765.6" cy="124.0" r="4.2"/>
<circle cx="1768.2" cy="132.1" r="4.2"/>
<circle cx="1815.1" cy="125.5" r="4.2"/>
<circle cx="1822.1" cy="124.4" r="4.2"/>
<circle cx="1844.3" cy="124.4" r="4.2"/>
<circle cx="1863.4" cy="127.0" r="4.2"/>
<circle cx="1799.7" cy="135.0" r="4.2"/>
<circle cx="1813.5" cy="133.2" r="4.2"/>
<circle cx="1813.5" cy="137.2" r="4.2"/>
<circle cx="1835.5" cy="133.2" r="4.2"/>
<circle cx="1835.5" cy="137.6" r="4.2"/>
<circle cx="1716.1" cy="142.7" r="4.2"/>
<circle cx="1761.8" cy="146.4" r="4.2"/>
<circle cx="1753.5" cy="151.4" r="4.2"/>
<circle cx="1764.5" cy="154.7" r="4.2"/>
<circle cx="1764.5" cy="159.1" r="4.2"/>
<circle cx="1739.6" cy="161.1" r="4.2"/>
<circle cx="1742.5" cy="166.2" r="4.2"/>
<circle cx="1747.3" cy="171.0" r="4.2"/>
<circle cx="1737.0" cy="173.4" r="4.2"/>
<circle cx="1769.5" cy="172.3" r="4.2"/>
<circle cx="1784.3" cy="165.1" r="4.2"/>
<circle cx="1721.2" cy="195.4" r="4.2"/>
<circle cx="1744.7" cy="194.8" r="4.2"/>
<circle cx="1732.2" cy="211.9" r="4.2"/>
<circle cx="1724.9" cy="244.0" r="4.2"/>
<circle cx="1759.6" cy="251.4" r="4.2"/>
<circle cx="1957.4" cy="63.8" r="4.2"/>
<circle cx="1977.2" cy="69.9" r="4.2"/>
<circle cx="1988.2" cy="71.5" r="4.2"/>
<circle cx="1992.1" cy="69.9" r="4.2"/>
<circle cx="1999.2" cy="76.5" r="4.2"/>
<circle cx="1974.5" cy="81.4" r="4.2"/>
<circle cx="2009.1" cy="87.3" r="4.2"/>
<circle cx="2001.4" cy="91.3" r="4.2"/>
<circle cx="1966.8" cy="92.4" r="4.2"/>
<circle cx="1983.1" cy="100.7" r="4.2"/>
<circle cx="1977.2" cy="110.0" r="4.2"/>
<circle cx="2001.8" cy="115.5" r="4.2"/>
<circle cx="1934.3" cy="88.6" r="4.2"/>
<circle cx="1942.4" cy="88.4" r="4.2"/>
<circle cx="1944.2" cy="91.3" r="4.2"/>
<circle cx="1939.1" cy="96.1" r="4.2"/>
<circle cx="1925.5" cy="93.5" r="4.2"/>
<circle cx="1923.9" cy="102.9" r="4.2"/>
<circle cx="1927.0" cy="106.2" r="4.2"/>
<circle cx="1943.7" cy="104.5" r="4.2"/>
<circle cx="1892.5" cy="100.1" r="4.2"/>
<circle cx="1896.9" cy="103.4" r="4.2"/>
<circle cx="1899.1" cy="108.9" r="4.2"/>
<circle cx="1898.0" cy="113.3" r="4.2"/>
<circle cx="1905.7" cy="102.9" r="4.2"/>
<circle cx="1910.1" cy="105.1" r="4.2"/>
<circle cx="1870.5" cy="108.2" r="4.2"/>
<circle cx="1865.0" cy="107.8" r="4.2"/>
<circle cx="1872.7" cy="117.7" r="4.2"/>
<circle cx="1880.0" cy="114.8" r="4.2"/>
<circle cx="1876.0" cy="126.6" r="4.2"/>
<circle cx="1883.7" cy="130.6" r="4.2"/>
<circle cx="1910.1" cy="135.4" r="4.2"/>
<circle cx="1912.3" cy="132.8" r="4.2"/>
<circle cx="1929.2" cy="128.4" r="4.2"/>
<circle cx="1951.2" cy="130.6" r="4.2"/>
<circle cx="1873.8" cy="158.9" r="4.2"/>
<circle cx="2133.3" cy="24.2" r="4.2"/>
<circle cx="2115.1" cy="41.3" r="4.2"/>
<circle cx="2136.0" cy="51.7" r="4.2"/>
<circle cx="2120.1" cy="53.9" r="4.2"/>
<circle cx="2115.1" cy="61.6" r="4.2"/>
<circle cx="2100.3" cy="55.4" r="4.2"/>
<circle cx="2054.6" cy="44.0" r="4.2"/>
<circle cx="2065.6" cy="44.0" r="4.2"/>
<circle cx="2045.1" cy="50.1" r="4.2"/>
<circle cx="2058.5" cy="58.9" r="4.2"/>
<circle cx="2042.5" cy="62.7" r="4.2"/>
<circle cx="2036.6" cy="65.3" r="4.2"/>
<circle cx="2021.6" cy="68.6" r="4.2"/>
<circle cx="2023.4" cy="75.9" r="4.2"/>
<circle cx="2017.6" cy="85.8" r="4.2"/>
<circle cx="2054.6" cy="72.6" r="4.2"/>
<circle cx="2067.1" cy="74.1" r="4.2"/>
<circle cx="2084.3" cy="66.0" r="4.2"/>
<circle cx="2094.2" cy="71.5" r="4.2"/>
<circle cx="2097.5" cy="71.5" r="4.2"/>
<circle cx="2116.2" cy="90.8" r="4.2"/>
<circle cx="2023.8" cy="99.6" r="4.2"/>
<circle cx="2037.7" cy="101.8" r="4.2"/>
<circle cx="2129.4" cy="114.4" r="4.2"/>
<circle cx="2116.6" cy="111.1" r="4.2"/>
<circle cx="2019.4" cy="130.3" r="4.2"/>
<circle cx="1824.8" cy="107.0" r="4.2"/>
<circle cx="1828.3" cy="114.3" r="4.2"/>
<circle cx="1862.1" cy="111.0" r="4.2"/>
</g>
<g fill="#ff7f0e">
<circle cx="1670.6" cy="303.3" r="4.2"/>
<circle cx="1660.7" cy="325.8" r="4.2"/>
<circle cx="1687.7" cy="328.0" r="4.2"/>
<circle cx="1711.3" cy="332.8" r="4.2"/>
<circle cx="1667.9" cy="339.0" r="4.2"/>
<circle cx="1648.6" cy="343.8" r="4.2"/>
<circle cx="1654.7" cy="351.5" r="4.2"/>
<circle cx="1621.7" cy="367.7" r="4.2"/>
<circle cx="1633.8" cy="373.6" r="4.2"/>
<circle cx="1611.2" cy="380.9" r="4.2"/>
<circle cx="1620.4" cy="382.0" r="4.2"/>
<circle cx="1698.7" cy="364.8" r="4.2"/>
<circle cx="1702.5" cy="364.0" r="4.2"/>
<circle cx="1676.7" cy="377.2" r="4.2"/>
<circle cx="1711.9" cy="379.8" r="4.2"/>
<circle cx="1667.9" cy="386.0" r="4.2"/>
<circle cx="1664.4" cy="392.3" r="4.2"/>
<circle cx="1628.8" cy="396.9" r="4.2"/>
<circle cx="1618.2" cy="406.6" r="4.2"/>
<circle cx="1623.3" cy="406.6" r="4.2"/>
<circle cx="1640.9" cy="407.9" r="4.2"/>
<circle cx="1653.4" cy="405.5" r="4.2"/>
<circle cx="1667.9" cy="410.6" r="4.2"/>
<circle cx="1714.1" cy="405.7" r="4.2"/>
<circle cx="1595.8" cy="424.2" r="4.2"/>
<circle cx="1616.2" cy="422.7" r="4.2"/>
<circle cx="1670.6" cy="425.3" r="4.2"/>
<circle cx="1708.6" cy="424.2" r="4.2"/>
<circle cx="1633.8" cy="436.5" r="4.2"/>
<circle cx="1640.9" cy="439.2" r="4.2"/>
<circle cx="1612.9" cy="457.4" r="4.2"/>
<circle cx="1806.3" cy="199.6" r="4.2"/>
<circle cx="1859.1" cy="197.0" r="4.2"/>
<circle cx="1854.0" cy="213.5" r="4.2"/>
<circle cx="1837.1" cy="223.8" r="4.2"/>
<circle cx="1830.5" cy="231.1" r="4.2"/>
<circle cx="1838.2" cy="232.2" r="4.2"/>
<circle cx="1849.2" cy="226.7" r="4.2"/>
<circle cx="1853.6" cy="225.1" r="4.2"/>
<circle cx="1785.8" cy="233.3" r="4.2"/>
<circle cx="1784.3" cy="235.5" r="4.2"/>
<circle cx="1780.3" cy="252.8" r="4.2"/>
<circle cx="1778.1" cy="264.9" r="4.2"/>
<circle cx="1810.0" cy="262.7" r="4.2"/>
<circle cx="1816.2" cy="273.6" r="4.2"/>
<circle cx="1739.2" cy="280.7" r="4.2"/>
<circle cx="1738.1" cy="285.1" r="4.2"/>
<circle cx="1780.3" cy="288.4" r="4.2"/>
<circle cx="1749.5" cy="304.4" r="4.2"/>
<circle cx="1744.7" cy="311.9" r="4.2"/>
<circle cx="1758.3" cy="309.7" r="4.2"/>
<circle cx="1745.8" cy="323.1" r="4.2"/>
<circle cx="1732.2" cy="326.9" r="4.2"/>
<circle cx="1810.0" cy="320.7" r="4.2"/>
<circle cx="1840.8" cy="334.1" r="4.2"/>
<circle cx="1800.3" cy="336.8" r="4.2"/>
<circle cx="1719.8" cy="348.9" r="4.2"/>
<circle cx="1863.4" cy="304.9" r="4.2"/>
<circle cx="1864.5" cy="241.8" r="4.2"/>
<circle cx="1743.2" cy="362.6" r="4.2"/>
<circle cx="1838.2" cy="369.9" r="4.2"/>
<circle cx="1987.1" cy="115.5" r="4.2"/>
<circle cx="2003.1" cy="135.4" r="4.2"/>
<circle cx="2011.9" cy="139.4" r="4.2"/>
<circle cx="1960.0" cy="147.9" r="4.2"/>
<circle cx="1957.4" cy="158.9" r="4.2"/>
<circle cx="1987.1" cy="148.6" r="4.2"/>
<circle cx="2005.8" cy="153.0" r="4.2"/>
<circle cx="1996.5" cy="165.1" r="4.2"/>
<circle cx="1998.1" cy="168.4" r="4.2"/>
<circle cx="1993.2" cy="172.3" r="4.2"/>
<circle cx="1929.2" cy="171.2" r="4.2"/>
<circle cx="1941.5" cy="172.3" r="4.2"/>
<circle cx="1951.4" cy="175.0" r="4.2"/>
<circle cx="1973.4" cy="183.8" r="4.2"/>
<circle cx="1927.0" cy="190.8" r="4.2"/>
<circle cx="1883.7" cy="172.1" r="4.2"/>
<circle cx="1896.9" cy="177.6" r="4.2"/>
<circle cx="1895.8" cy="194.8" r="4.2"/>
<circle cx="1896.4" cy="202.0" r="4.2"/>
<circle cx="1911.6" cy="204.2" r="4.2"/>
<circle cx="1946.4" cy="200.9" r="4.2"/>
<circle cx="1946.4" cy="209.1" r="4.2"/>
<circle cx="1929.2" cy="213.0" r="4.2"/>
<circle cx="1892.5" cy="232.8" r="4.2"/>
<circle cx="1906.8" cy="238.8" r="4.2"/>
<circle cx="2005.1" cy="227.8" r="4.2"/>
<circle cx="2013.4" cy="206.9" r="4.2"/>
<circle cx="1868.3" cy="199.2" r="4.2"/>
<circle cx="1898.4" cy="271.4" r="4.2"/>
<circle cx="1910.7" cy="289.9" r="4.2"/>
<circle cx="1869.8" cy="308.6" r="4.2"/>
<circle cx="2100.1" cy="81.4" r="4.2"/>
<circle cx="2124.5" cy="101.2" r="4.2"/>
<circle cx="2135.5" cy="103.4" r="4.2"/>
<circle cx="2111.1" cy="102.3" r="4.2"/>
<circle cx="2112.4" cy="108.4" r="4.2"/>
<circle cx="2045.1" cy="112.2" r="4.2"/>
<circle cx="2089.3" cy="116.6" r="4.2"/>
<circle cx="2110.0" cy="116.6" r="4.2"/>
<circle cx="2030.0" cy="126.6" r="4.2"/>
<circle cx="2034.4" cy="133.2" r="4.2"/>
<circle cx="2024.9" cy="136.5" r="4.2"/>
<circle cx="2057.2" cy="130.3" r="4.2"/>
<circle cx="2059.6" cy="121.1" r="4.2"/>
<circle cx="2074.4" cy="129.2" r="4.2"/>
<circle cx="2092.0" cy="132.1" r="4.2"/>
<circle cx="2073.3" cy="142.7" r="4.2"/>
<circle cx="2077.7" cy="142.7" r="4.2"/>
<circle cx="2084.3" cy="146.4" r="4.2"/>
<circle cx="2052.4" cy="151.9" r="4.2"/>
<circle cx="2071.1" cy="166.2" r="4.2"/>
<circle cx="2120.1" cy="129.2" r="4.2"/>
<circle cx="2126.1" cy="121.1" r="4.2"/>
<circle cx="2122.3" cy="181.1" r="4.2"/>
<circle cx="2022.7" cy="220.5" r="4.2"/>
<circle cx="2045.1" cy="231.7" r="4.2"/>
</g>
<g fill="#2ca02c">
<circle cx="1663.3" cy="192.1" r="4.2"/>
<circle cx="1701.4" cy="190.8" r="4.2"/>
<circle cx="1689.3" cy="199.6" r="4.2"/>
<circle cx="1700.3" cy="203.1" r="4.2"/>
<circle cx="1671.7" cy="214.6" r="4.2"/>
<circle cx="1691.5" cy="215.7" r="4.2"/>
<circle cx="1618.9" cy="215.7" r="4.2"/>
<circle cx="1610.1" cy="221.6" r="4.2"/>
<circle cx="1627.7" cy="227.8" r="4.2"/>
<circle cx="1661.1" cy="235.0" r="4.2"/>
<circle cx="1683.1" cy="232.8" r="4.2"/>
<circle cx="1709.7" cy="231.7" r="4.2"/>
<circle cx="1596.9" cy="238.8" r="4.2"/>
<circle cx="1620.4" cy="246.6" r="4.2"/>
<circle cx="1637.6" cy="245.5" r="4.2"/>
<circle cx="1684.2" cy="241.1" r="4.2"/>
<circle cx="1662.2" cy="249.9" r="4.2"/>
<circle cx="1655.6" cy="259.1" r="4.2"/>
<circle cx="1601.9" cy="256.5" r="4.2"/>
<circle cx="1618.9" cy="262.4" r="4.2"/>
<circle cx="1672.8" cy="270.1" r="4.2"/>
<circle cx="1696.5" cy="271.2" r="4.2"/>
<circle cx="1713.0" cy="247.7" r="4.2"/>
<circle cx="1610.1" cy="282.2" r="4.2"/>
<circle cx="1602.8" cy="288.4" r="4.2"/>
<circle cx="1649.7" cy="296.1" r="4.2"/>
<circle cx="1659.6" cy="300.9" r="4.2"/>
<circle cx="1590.7" cy="326.9" r="4.2"/>
<circle cx="1683.8" cy="343.8" r="4.2"/>
<circle cx="1803.6" cy="139.4" r="4.2"/>
<circle cx="1789.8" cy="155.2" r="4.2"/>
<circle cx="1788.0" cy="157.8" r="4.2"/>
<circle cx="1841.9" cy="150.1" r="4.2"/>
<circle cx="1831.6" cy="160.0" r="4.2"/>
<circle cx="1834.9" cy="159.1" r="4.2"/>
<circle cx="1840.8" cy="164.0" r="4.2"/>
<circle cx="1816.8" cy="167.3" r="4.2"/>
<circle cx="1841.9" cy="173.4" r="4.2"/>
<circle cx="1802.5" cy="193.2" r="4.2"/>
<circle cx="1844.8" cy="200.9" r="4.2"/>
<circle cx="1862.8" cy="199.6" r="4.2"/>
<circle cx="1759.6" cy="197.0" r="4.2"/>
<circle cx="1755.7" cy="205.8" r="4.2"/>
<circle cx="1765.6" cy="207.3" r="4.2"/>
<circle cx="1780.5" cy="210.2" r="4.2"/>
<circle cx="1784.3" cy="208.0" r="4.2"/>
<circle cx="1790.9" cy="212.4" r="4.2"/>
<circle cx="1759.6" cy="214.6" r="4.2"/>
<circle cx="1758.3" cy="220.7" r="4.2"/>
<circle cx="1829.4" cy="218.3" r="4.2"/>
<circle cx="1844.8" cy="230.0" r="4.2"/>
<circle cx="1724.9" cy="230.4" r="4.2"/>
<circle cx="1721.2" cy="202.5" r="4.2"/>
<circle cx="1766.7" cy="238.8" r="4.2"/>
<circle cx="1833.8" cy="238.8" r="4.2"/>
<circle cx="1849.6" cy="238.8" r="4.2"/>
<circle cx="1822.3" cy="245.5" r="4.2"/>
<circle cx="1760.7" cy="263.8" r="4.2"/>
<circle cx="1792.4" cy="265.3" r="4.2"/>
<circle cx="1830.9" cy="263.8" r="4.2"/>
<circle cx="1740.7" cy="275.8" r="4.2"/>
<circle cx="1726.0" cy="342.7" r="4.2"/>
<circle cx="2014.5" cy="76.3" r="4.2"/>
<circle cx="1999.6" cy="87.3" r="4.2"/>
<circle cx="2009.1" cy="95.0" r="4.2"/>
<circle cx="1985.5" cy="92.4" r="4.2"/>
<circle cx="1952.5" cy="96.8" r="4.2"/>
<circle cx="1969.9" cy="104.5" r="4.2"/>
<circle cx="1979.4" cy="107.8" r="4.2"/>
<circle cx="1958.9" cy="109.3" r="4.2"/>
<circle cx="1880.0" cy="118.8" r="4.2"/>
<circle cx="1898.4" cy="129.2" r="4.2"/>
<circle cx="1937.6" cy="123.3" r="4.2"/>
<circle cx="1954.1" cy="126.6" r="4.2"/>
<circle cx="1975.0" cy="121.1" r="4.2"/>
<circle cx="1972.8" cy="132.1" r="4.2"/>
<circle cx="1978.9" cy="128.8" r="4.2"/>
<circle cx="1868.3" cy="141.6" r="4.2"/>
<circle cx="1904.6" cy="144.2" r="4.2"/>
<circle cx="1906.8" cy="146.0" r="4.2"/>
<circle cx="1909.0" cy="144.6" r="4.2"/>
<circle cx="1915.6" cy="151.4" r="4.2"/>
<circle cx="1883.7" cy="160.0" r="4.2"/>
<circle cx="1874.9" cy="166.2" r="4.2"/>
<circle cx="1898.0" cy="161.8" r="4.2"/>
<circle cx="1899.5" cy="165.1" r="4.2"/>
<circle cx="1891.0" cy="174.5" r="4.2"/>
<circle cx="1891.4" cy="181.6" r="4.2"/>
<circle cx="1990.8" cy="142.7" r="4.2"/>
<circle cx="2000.7" cy="148.6" r="4.2"/>
<circle cx="1974.3" cy="162.2" r="4.2"/>
<circle cx="1972.1" cy="170.1" r="4.2"/>
<circle cx="2010.2" cy="170.1" r="4.2"/>
<circle cx="1952.5" cy="187.5" r="4.2"/>
<circle cx="1920.6" cy="186.0" r="4.2"/>
<circle cx="1895.8" cy="210.6" r="4.2"/>
<circle cx="1966.2" cy="220.5" r="4.2"/>
<circle cx="2122.1" cy="30.8" r="4.2"/>
<circle cx="2125.0" cy="42.9" r="4.2"/>
<circle cx="2096.4" cy="45.5" r="4.2"/>
<circle cx="2092.0" cy="67.7" r="4.2"/>
<circle cx="2084.3" cy="74.3" r="4.2"/>
<circle cx="2100.8" cy="76.5" r="4.2"/>
<circle cx="2111.1" cy="71.0" r="4.2"/>
<circle cx="2127.2" cy="80.3" r="4.2"/>
<circle cx="2133.3" cy="80.3" r="4.2"/>
<circle cx="2037.4" cy="72.6" r="4.2"/>
<circle cx="2030.0" cy="82.5" r="4.2"/>
<circle cx="2075.5" cy="83.6" r="4.2"/>
<circle cx="2080.5" cy="88.6" r="4.2"/>
<circle cx="2089.3" cy="89.7" r="4.2"/>
<circle cx="2077.0" cy="103.4" r="4.2"/>
<circle cx="2033.0" cy="101.2" r="4.2"/>
<circle cx="2059.6" cy="109.3" r="4.2"/>
<circle cx="2036.3" cy="113.3" r="4.2"/>
<circle cx="2116.2" cy="114.4" r="4.2"/>
<circle cx="2089.3" cy="118.8" r="4.2"/>
<circle cx="2050.8" cy="147.9" r="4.2"/>
<circle cx="2060.7" cy="149.0" r="4.2"/>
<circle cx="2088.2" cy="127.0" r="4.2"/>
</g>
</g>
<line x1="964.6" y1="382.90000000000003" x2="964.6" y2="457.32" stroke="#1f77b4" stroke-width="2.6"/>
<circle cx="964.6" cy="382.90000000000003" r="3.9" fill="#1f77b4"/>
<path d="M957.80,457.32 L971.40,457.32 L964.60,467.32 Z" fill="#1f77b4"/>
<line x1="987.9" y1="382.90000000000003" x2="987.9" y2="457.32" stroke="#1f77b4" stroke-width="2.6"/>
<circle cx="987.9" cy="382.90000000000003" r="3.9" fill="#1f77b4"/>
<path d="M981.10,457.32 L994.70,457.32 L987.90,467.32 Z" fill="#1f77b4"/>
<line x1="1038.3" y1="382.90000000000003" x2="1038.3" y2="457.32" stroke="#1f77b4" stroke-width="2.6"/>
<circle cx="1038.3" cy="382.90000000000003" r="3.9" fill="#1f77b4"/>
<path d="M1031.50,457.32 L1045.10,457.32 L1038.30,467.32 Z" fill="#1f77b4"/>
<line x1="1041.2" y1="382.90000000000003" x2="1041.2" y2="457.32" stroke="#1f77b4" stroke-width="2.6"/>
<circle cx="1041.2" cy="382.90000000000003" r="3.9" fill="#1f77b4"/>
<path d="M1034.40,457.32 L1048.00,457.32 L1041.20,467.32 Z" fill="#1f77b4"/>
<line x1="1072.9" y1="382.90000000000003" x2="1072.9" y2="457.32" stroke="#1f77b4" stroke-width="2.6"/>
<circle cx="1072.9" cy="382.90000000000003" r="3.9" fill="#1f77b4"/>
<path d="M1066.10,457.32 L1079.70,457.32 L1072.90,467.32 Z" fill="#1f77b4"/>
<line x1="1087.3" y1="382.90000000000003" x2="1087.3" y2="457.32" stroke="#1f77b4" stroke-width="2.6"/>
<circle cx="1087.3" cy="382.90000000000003" r="3.9" fill="#1f77b4"/>
<path d="M1080.50,457.32 L1094.10,457.32 L1087.30,467.32 Z" fill="#1f77b4"/>
<line x1="1089.2" y1="382.90000000000003" x2="1089.2" y2="457.32" stroke="#1f77b4" stroke-width="2.6"/>
<circle cx="1089.2" cy="382.90000000000003" r="3.9" fill="#1f77b4"/>
<path d="M1082.40,457.32 L1096.00,457.32 L1089.20,467.32 Z" fill="#1f77b4"/>
<line x1="1093" y1="382.90000000000003" x2="1093" y2="457.32" stroke="#1f77b4" stroke-width="2.6"/>
<circle cx="1093" cy="382.90000000000003" r="3.9" fill="#1f77b4"/>
<path d="M1086.20,457.32 L1099.80,457.32 L1093.00,467.32 Z" fill="#1f77b4"/>
<line x1="1096" y1="382.90000000000003" x2="1096" y2="457.32" stroke="#1f77b4" stroke-width="2.6"/>
<circle cx="1096" cy="382.90000000000003" r="3.9" fill="#1f77b4"/>
<path d="M1089.20,457.32 L1102.80,457.32 L1096.00,467.32 Z" fill="#1f77b4"/>
<line x1="1098.8" y1="382.90000000000003" x2="1098.8" y2="457.32" stroke="#1f77b4" stroke-width="2.6"/>
<circle cx="1098.8" cy="382.90000000000003" r="3.9" fill="#1f77b4"/>
<path d="M1092.00,457.32 L1105.60,457.32 L1098.80,467.32 Z" fill="#1f77b4"/>
<line x1="1100.8" y1="382.90000000000003" x2="1100.8" y2="457.32" stroke="#1f77b4" stroke-width="2.6"/>
<circle cx="1100.8" cy="382.90000000000003" r="3.9" fill="#1f77b4"/>
<path d="M1094.00,457.32 L1107.60,457.32 L1100.80,467.32 Z" fill="#1f77b4"/>
<line x1="1117.1" y1="382.90000000000003" x2="1117.1" y2="457.32" stroke="#1f77b4" stroke-width="2.6"/>
<circle cx="1117.1" cy="382.90000000000003" r="3.9" fill="#1f77b4"/>
<path d="M1110.30,457.32 L1123.90,457.32 L1117.10,467.32 Z" fill="#1f77b4"/>
<line x1="1133.5" y1="382.90000000000003" x2="1133.5" y2="457.32" stroke="#1f77b4" stroke-width="2.6"/>
<circle cx="1133.5" cy="382.90000000000003" r="3.9" fill="#1f77b4"/>
<path d="M1126.70,457.32 L1140.30,457.32 L1133.50,467.32 Z" fill="#1f77b4"/>
<line x1="1136.3" y1="382.90000000000003" x2="1136.3" y2="457.32" stroke="#1f77b4" stroke-width="2.6"/>
<circle cx="1136.3" cy="382.90000000000003" r="3.9" fill="#1f77b4"/>
<path d="M1129.50,457.32 L1143.10,457.32 L1136.30,467.32 Z" fill="#1f77b4"/>
<line x1="1145" y1="382.90000000000003" x2="1145" y2="457.32" stroke="#1f77b4" stroke-width="2.6"/>
<circle cx="1145" cy="382.90000000000003" r="3.9" fill="#1f77b4"/>
<path d="M1138.20,457.32 L1151.80,457.32 L1145.00,467.32 Z" fill="#1f77b4"/>
<line x1="1152.7" y1="382.90000000000003" x2="1152.7" y2="457.32" stroke="#1f77b4" stroke-width="2.6"/>
<circle cx="1152.7" cy="382.90000000000003" r="3.9" fill="#1f77b4"/>
<path d="M1145.90,457.32 L1159.50,457.32 L1152.70,467.32 Z" fill="#1f77b4"/>
<line x1="1155.6" y1="382.90000000000003" x2="1155.6" y2="457.32" stroke="#1f77b4" stroke-width="2.6"/>
<circle cx="1155.6" cy="382.90000000000003" r="3.9" fill="#1f77b4"/>
<path d="M1148.80,457.32 L1162.40,457.32 L1155.60,467.32 Z" fill="#1f77b4"/>
<line x1="1157.5" y1="382.90000000000003" x2="1157.5" y2="457.32" stroke="#1f77b4" stroke-width="2.6"/>
<circle cx="1157.5" cy="382.90000000000003" r="3.9" fill="#1f77b4"/>
<path d="M1150.70,457.32 L1164.30,457.32 L1157.50,467.32 Z" fill="#1f77b4"/>
<line x1="1165.2" y1="382.90000000000003" x2="1165.2" y2="457.32" stroke="#1f77b4" stroke-width="2.6"/>
<circle cx="1165.2" cy="382.90000000000003" r="3.9" fill="#1f77b4"/>
<path d="M1158.40,457.32 L1172.00,457.32 L1165.20,467.32 Z" fill="#1f77b4"/>
<line x1="1171" y1="382.90000000000003" x2="1171" y2="457.32" stroke="#1f77b4" stroke-width="2.6"/>
<circle cx="1171" cy="382.90000000000003" r="3.9" fill="#1f77b4"/>
<path d="M1164.20,457.32 L1177.80,457.32 L1171.00,467.32 Z" fill="#1f77b4"/>
<line x1="1178.7" y1="382.90000000000003" x2="1178.7" y2="457.32" stroke="#1f77b4" stroke-width="2.6"/>
<circle cx="1178.7" cy="382.90000000000003" r="3.9" fill="#1f77b4"/>
<path d="M1171.90,457.32 L1185.50,457.32 L1178.70,467.32 Z" fill="#1f77b4"/>
<line x1="1196.5" y1="382.90000000000003" x2="1196.5" y2="457.32" stroke="#1f77b4" stroke-width="2.6"/>
<circle cx="1196.5" cy="382.90000000000003" r="3.9" fill="#1f77b4"/>
<path d="M1189.70,457.32 L1203.30,457.32 L1196.50,467.32 Z" fill="#1f77b4"/>
<line x1="1198.5" y1="382.90000000000003" x2="1198.5" y2="457.32" stroke="#1f77b4" stroke-width="2.6"/>
<circle cx="1198.5" cy="382.90000000000003" r="3.9" fill="#1f77b4"/>
<path d="M1191.70,457.32 L1205.30,457.32 L1198.50,467.32 Z" fill="#1f77b4"/>
<line x1="1207.3" y1="382.90000000000003" x2="1207.3" y2="457.32" stroke="#1f77b4" stroke-width="2.6"/>
<circle cx="1207.3" cy="382.90000000000003" r="3.9" fill="#1f77b4"/>
<path d="M1200.50,457.32 L1214.10,457.32 L1207.30,467.32 Z" fill="#1f77b4"/>
<line x1="1215.4" y1="382.90000000000003" x2="1215.4" y2="457.32" stroke="#1f77b4" stroke-width="2.6"/>
<circle cx="1215.4" cy="382.90000000000003" r="3.9" fill="#1f77b4"/>
<path d="M1208.60,457.32 L1222.20,457.32 L1215.40,467.32 Z" fill="#1f77b4"/>
<line x1="1217.7" y1="382.90000000000003" x2="1217.7" y2="457.32" stroke="#1f77b4" stroke-width="2.6"/>
<circle cx="1217.7" cy="382.90000000000003" r="3.9" fill="#1f77b4"/>
<path d="M1210.90,457.32 L1224.50,457.32 L1217.70,467.32 Z" fill="#1f77b4"/>
<line x1="1230.4" y1="382.90000000000003" x2="1230.4" y2="457.32" stroke="#1f77b4" stroke-width="2.6"/>
<circle cx="1230.4" cy="382.90000000000003" r="3.9" fill="#1f77b4"/>
<path d="M1223.60,457.32 L1237.20,457.32 L1230.40,467.32 Z" fill="#1f77b4"/>
<line x1="1240" y1="382.90000000000003" x2="1240" y2="457.32" stroke="#1f77b4" stroke-width="2.6"/>
<circle cx="1240" cy="382.90000000000003" r="3.9" fill="#1f77b4"/>
<path d="M1233.20,457.32 L1246.80,457.32 L1240.00,467.32 Z" fill="#1f77b4"/>
<line x1="1247.1" y1="382.90000000000003" x2="1247.1" y2="457.32" stroke="#1f77b4" stroke-width="2.6"/>
<circle cx="1247.1" cy="382.90000000000003" r="3.9" fill="#1f77b4"/>
<path d="M1240.30,457.32 L1253.90,457.32 L1247.10,467.32 Z" fill="#1f77b4"/>
<line x1="1249" y1="382.90000000000003" x2="1249" y2="457.32" stroke="#1f77b4" stroke-width="2.6"/>
<circle cx="1249" cy="382.90000000000003" r="3.9" fill="#1f77b4"/>
<path d="M1242.20,457.32 L1255.80,457.32 L1249.00,467.32 Z" fill="#1f77b4"/>
<line x1="1251" y1="382.90000000000003" x2="1251" y2="457.32" stroke="#1f77b4" stroke-width="2.6"/>
<circle cx="1251" cy="382.90000000000003" r="3.9" fill="#1f77b4"/>
<path d="M1244.20,457.32 L1257.80,457.32 L1251.00,467.32 Z" fill="#1f77b4"/>
<line x1="1272.1" y1="382.90000000000003" x2="1272.1" y2="457.32" stroke="#1f77b4" stroke-width="2.6"/>
<circle cx="1272.1" cy="382.90000000000003" r="3.9" fill="#1f77b4"/>
<path d="M1265.30,457.32 L1278.90,457.32 L1272.10,467.32 Z" fill="#1f77b4"/>
<line x1="1290.4" y1="382.90000000000003" x2="1290.4" y2="457.32" stroke="#1f77b4" stroke-width="2.6"/>
<circle cx="1290.4" cy="382.90000000000003" r="3.9" fill="#1f77b4"/>
<path d="M1283.60,457.32 L1297.20,457.32 L1290.40,467.32 Z" fill="#1f77b4"/>
<line x1="1317.7" y1="382.90000000000003" x2="1317.7" y2="457.32" stroke="#1f77b4" stroke-width="2.6"/>
<circle cx="1317.7" cy="382.90000000000003" r="3.9" fill="#1f77b4"/>
<path d="M1310.90,457.32 L1324.50,457.32 L1317.70,467.32 Z" fill="#1f77b4"/>
<line x1="1327.5" y1="382.90000000000003" x2="1327.5" y2="457.32" stroke="#1f77b4" stroke-width="2.6"/>
<circle cx="1327.5" cy="382.90000000000003" r="3.9" fill="#1f77b4"/>
<path d="M1320.70,457.32 L1334.30,457.32 L1327.50,467.32 Z" fill="#1f77b4"/>
<line x1="1340" y1="382.90000000000003" x2="1340" y2="457.32" stroke="#1f77b4" stroke-width="2.6"/>
<circle cx="1340" cy="382.90000000000003" r="3.9" fill="#1f77b4"/>
<path d="M1333.20,457.32 L1346.80,457.32 L1340.00,467.32 Z" fill="#1f77b4"/>
<line x1="1366.3" y1="382.90000000000003" x2="1366.3" y2="457.32" stroke="#1f77b4" stroke-width="2.6"/>
<circle cx="1366.3" cy="382.90000000000003" r="3.9" fill="#1f77b4"/>
<path d="M1359.50,457.32 L1373.10,457.32 L1366.30,467.32 Z" fill="#1f77b4"/>
<line x1="1369.2" y1="382.90000000000003" x2="1369.2" y2="457.32" stroke="#1f77b4" stroke-width="2.6"/>
<circle cx="1369.2" cy="382.90000000000003" r="3.9" fill="#1f77b4"/>
<path d="M1362.40,457.32 L1376.00,457.32 L1369.20,467.32 Z" fill="#1f77b4"/>
<line x1="1372.1" y1="382.90000000000003" x2="1372.1" y2="457.32" stroke="#1f77b4" stroke-width="2.6"/>
<circle cx="1372.1" cy="382.90000000000003" r="3.9" fill="#1f77b4"/>
<path d="M1365.30,457.32 L1378.90,457.32 L1372.10,467.32 Z" fill="#1f77b4"/>
<line x1="1374" y1="382.90000000000003" x2="1374" y2="457.32" stroke="#1f77b4" stroke-width="2.6"/>
<circle cx="1374" cy="382.90000000000003" r="3.9" fill="#1f77b4"/>
<path d="M1367.20,457.32 L1380.80,457.32 L1374.00,467.32 Z" fill="#1f77b4"/>
<line x1="943.7" y1="382.90000000000003" x2="943.7" y2="457.32" stroke="#ff7f0e" stroke-width="2.6"/>
<circle cx="943.7" cy="382.90000000000003" r="3.9" fill="#ff7f0e"/>
<path d="M936.90,457.32 L950.50,457.32 L943.70,467.32 Z" fill="#ff7f0e"/>
<line x1="1126.7" y1="382.90000000000003" x2="1126.7" y2="457.32" stroke="#ff7f0e" stroke-width="2.6"/>
<circle cx="1126.7" cy="382.90000000000003" r="3.9" fill="#ff7f0e"/>
<path d="M1119.90,457.32 L1133.50,457.32 L1126.70,467.32 Z" fill="#ff7f0e"/>
<line x1="1130.6" y1="382.90000000000003" x2="1130.6" y2="457.32" stroke="#ff7f0e" stroke-width="2.6"/>
<circle cx="1130.6" cy="382.90000000000003" r="3.9" fill="#ff7f0e"/>
<path d="M1123.80,457.32 L1137.40,457.32 L1130.60,467.32 Z" fill="#ff7f0e"/>
<line x1="1167.7" y1="382.90000000000003" x2="1167.7" y2="457.32" stroke="#ff7f0e" stroke-width="2.6"/>
<circle cx="1167.7" cy="382.90000000000003" r="3.9" fill="#ff7f0e"/>
<path d="M1160.90,457.32 L1174.50,457.32 L1167.70,467.32 Z" fill="#ff7f0e"/>
<line x1="1260.6" y1="382.90000000000003" x2="1260.6" y2="457.32" stroke="#ff7f0e" stroke-width="2.6"/>
<circle cx="1260.6" cy="382.90000000000003" r="3.9" fill="#ff7f0e"/>
<path d="M1253.80,457.32 L1267.40,457.32 L1260.60,467.32 Z" fill="#ff7f0e"/>
<line x1="1301.5" y1="382.90000000000003" x2="1301.5" y2="457.32" stroke="#ff7f0e" stroke-width="2.6"/>
<circle cx="1301.5" cy="382.90000000000003" r="3.9" fill="#ff7f0e"/>
<path d="M1294.70,457.32 L1308.30,457.32 L1301.50,467.32 Z" fill="#ff7f0e"/>
<line x1="1362.1" y1="382.90000000000003" x2="1362.1" y2="457.32" stroke="#ff7f0e" stroke-width="2.6"/>
<circle cx="1362.1" cy="382.90000000000003" r="3.9" fill="#ff7f0e"/>
<path d="M1355.30,457.32 L1368.90,457.32 L1362.10,467.32 Z" fill="#ff7f0e"/>
<path d="M357.60,114.40 L354.01,125.46 L342.38,125.46 L351.79,132.29 L348.20,143.34 L357.60,136.51 L367.00,143.34 L363.41,132.29 L372.82,125.46 L361.19,125.46 Z" fill="#9467bd" stroke="#000" stroke-width="2.0" stroke-linejoin="bevel"/>
<path d="M426.20,108.10 L422.61,119.16 L410.98,119.16 L420.39,125.99 L416.80,137.04 L426.20,130.21 L435.60,137.04 L432.01,125.99 L441.42,119.16 L429.79,119.16 Z" fill="#d62728" stroke="#000" stroke-width="2.0" stroke-linejoin="bevel"/>
<path d="M1084.60,110.80 L1081.01,121.86 L1069.38,121.86 L1078.79,128.69 L1075.20,139.74 L1084.60,132.91 L1094.00,139.74 L1090.41,128.69 L1099.82,121.86 L1088.19,121.86 Z" fill="#9467bd" stroke="#000" stroke-width="2.0" stroke-linejoin="bevel"/>
<path d="M1153.50,168.20 L1149.91,179.26 L1138.28,179.26 L1147.69,186.09 L1144.10,197.14 L1153.50,190.31 L1162.90,197.14 L1159.31,186.09 L1168.72,179.26 L1157.09,179.26 Z" fill="#d62728" stroke="#000" stroke-width="2.0" stroke-linejoin="bevel"/>
<path d="M1812.00,326.60 L1808.41,337.66 L1796.78,337.66 L1806.19,344.49 L1802.60,355.54 L1812.00,348.71 L1821.40,355.54 L1817.81,344.49 L1827.22,337.66 L1815.59,337.66 Z" fill="#9467bd" stroke="#000" stroke-width="2.0" stroke-linejoin="bevel"/>
<path d="M1881.20,175.40 L1877.61,186.46 L1865.98,186.46 L1875.39,193.29 L1871.80,204.34 L1881.20,197.51 L1890.60,204.34 L1887.01,193.29 L1896.42,186.46 L1884.79,186.46 Z" fill="#d62728" stroke="#000" stroke-width="2.0" stroke-linejoin="bevel"/>
<rect x="108.5" y="2.3" width="600.00" height="477.30" fill="none" stroke="#262626" stroke-width="1.8"/>
<path d="M169.80,479.6 V472.6 M242.92,479.6 V472.6 M316.04,479.6 V472.6 M389.16,479.6 V472.6 M462.28,479.6 V472.6 M535.40,479.6 V472.6 M608.52,479.6 V472.6 M681.64,479.6 V472.6 M108.5,472.40 H115.5 M108.5,417.50 H115.5 M108.5,362.60 H115.5 M108.5,307.70 H115.5 M108.5,252.80 H115.5 M108.5,197.90 H115.5 M108.5,143.00 H115.5 M108.5,88.10 H115.5 M108.5,33.20 H115.5" stroke="#262626" stroke-width="1.8" fill="none"/>
<g font-size="20.3" fill="#1a1a1a" text-anchor="middle">
<text x="169.80" y="500.2">11.6</text>
<text x="242.92" y="500.2">11.8</text>
<text x="316.04" y="500.2">12.0</text>
<text x="389.16" y="500.2">12.2</text>
<text x="462.28" y="500.2">12.4</text>
<text x="535.40" y="500.2">12.6</text>
<text x="608.52" y="500.2">12.8</text>
<text x="681.64" y="500.2">13.0</text>
</g>
<g font-size="20.3" fill="#1a1a1a" text-anchor="end">
<text x="101.50" y="479.00">9.25</text>
<text x="101.50" y="424.10">9.50</text>
<text x="101.50" y="369.20">9.75</text>
<text x="101.50" y="314.30">10.00</text>
<text x="101.50" y="259.40">10.25</text>
<text x="101.50" y="204.50">10.50</text>
<text x="101.50" y="149.60">10.75</text>
<text x="101.50" y="94.70">11.00</text>
<text x="101.50" y="39.80">11.25</text>
</g>
<rect x="835.4" y="2.3" width="600.60" height="477.30" fill="none" stroke="#262626" stroke-width="1.8"/>
<path d="M897.40,479.6 V472.6 M970.52,479.6 V472.6 M1043.64,479.6 V472.6 M1116.76,479.6 V472.6 M1189.88,479.6 V472.6 M1263.00,479.6 V472.6 M1336.12,479.6 V472.6 M1409.24,479.6 V472.6 M835.4,10.80 H842.4 M835.4,85.22 H842.4 M835.4,159.64 H842.4 M835.4,234.06 H842.4 M835.4,308.48 H842.4 M835.4,382.90 H842.4 M835.4,457.32 H842.4" stroke="#262626" stroke-width="1.8" fill="none"/>
<g font-size="20.3" fill="#1a1a1a" text-anchor="middle">
<text x="897.40" y="500.2">11.6</text>
<text x="970.52" y="500.2">11.8</text>
<text x="1043.64" y="500.2">12.0</text>
<text x="1116.76" y="500.2">12.2</text>
<text x="1189.88" y="500.2">12.4</text>
<text x="1263.00" y="500.2">12.6</text>
<text x="1336.12" y="500.2">12.8</text>
<text x="1409.24" y="500.2">13.0</text>
</g>
<g font-size="20.3" fill="#1a1a1a" text-anchor="end">
<text x="828.40" y="17.40">−9</text>
<text x="828.40" y="91.82">−10</text>
<text x="828.40" y="166.24">−11</text>
<text x="828.40" y="240.66">−12</text>
<text x="828.40" y="315.08">−13</text>
<text x="828.40" y="389.50">−14</text>
<text x="828.40" y="463.92">−15</text>
</g>
<rect x="1563.5" y="2.3" width="600.80" height="477.30" fill="none" stroke="#262626" stroke-width="1.8"/>
<path d="M1625.40,479.6 V472.6 M1698.52,479.6 V472.6 M1771.64,479.6 V472.6 M1844.76,479.6 V472.6 M1917.88,479.6 V472.6 M1991.00,479.6 V472.6 M2064.12,479.6 V472.6 M2137.24,479.6 V472.6 M1563.5,418.01 H1570.5 M1563.5,353.47 H1570.5 M1563.5,288.94 H1570.5 M1563.5,224.41 H1570.5 M1563.5,159.87 H1570.5 M1563.5,95.33 H1570.5 M1563.5,30.80 H1570.5" stroke="#262626" stroke-width="1.8" fill="none"/>
<g font-size="20.3" fill="#1a1a1a" text-anchor="middle">
<text x="1625.40" y="500.2">11.6</text>
<text x="1698.52" y="500.2">11.8</text>
<text x="1771.64" y="500.2">12.0</text>
<text x="1844.76" y="500.2">12.2</text>
<text x="1917.88" y="500.2">12.4</text>
<text x="1991.00" y="500.2">12.6</text>
<text x="2064.12" y="500.2">12.8</text>
<text x="2137.24" y="500.2">13.0</text>
</g>
<g font-size="20.3" fill="#1a1a1a" text-anchor="end">
<text x="1556.50" y="424.61">6.0</text>
<text x="1556.50" y="360.07">6.5</text>
<text x="1556.50" y="295.54">7.0</text>
<text x="1556.50" y="231.00">7.5</text>
<text x="1556.50" y="166.47">8.0</text>
<text x="1556.50" y="101.93">8.5</text>
<text x="1556.50" y="37.40">9.0</text>
</g>
<text transform="translate(288.50,538.00)" fill="#000"><tspan x="0.00" y="0.00" font-size="30.6">l</tspan><tspan x="8.51" y="0.00" font-size="30.6">o</tspan><tspan x="27.25" y="0.00" font-size="30.6">g</tspan><tspan x="85.05" y="0.00" font-size="30.6">M</tspan><tspan x="163.48" y="0.00" font-size="30.6">[</tspan><tspan x="175.43" y="0.00" font-size="30.6">M</tspan><tspan x="229.31" y="0.00" font-size="30.6">]</tspan><tspan x="46.98" y="5.09" font-size="21.42">1</tspan><tspan x="60.62" y="5.09" font-size="21.42">0</tspan><tspan x="111.77" y="5.09" font-size="21.42">2</tspan><tspan x="125.41" y="5.09" font-size="21.42">0</tspan><tspan x="139.05" y="5.09" font-size="21.42">0</tspan><tspan x="206.33" y="5.09" font-size="21.42">⊙</tspan></text>
<text transform="translate(1015.70,538.00)" fill="#000"><tspan x="0.00" y="0.00" font-size="30.6">l</tspan><tspan x="8.51" y="0.00" font-size="30.6">o</tspan><tspan x="27.25" y="0.00" font-size="30.6">g</tspan><tspan x="85.05" y="0.00" font-size="30.6">M</tspan><tspan x="163.48" y="0.00" font-size="30.6">[</tspan><tspan x="175.43" y="0.00" font-size="30.6">M</tspan><tspan x="229.31" y="0.00" font-size="30.6">]</tspan><tspan x="46.98" y="5.09" font-size="21.42">1</tspan><tspan x="60.62" y="5.09" font-size="21.42">0</tspan><tspan x="111.77" y="5.09" font-size="21.42">2</tspan><tspan x="125.41" y="5.09" font-size="21.42">0</tspan><tspan x="139.05" y="5.09" font-size="21.42">0</tspan><tspan x="206.33" y="5.09" font-size="21.42">⊙</tspan></text>
<text transform="translate(1743.90,538.00)" fill="#000"><tspan x="0.00" y="0.00" font-size="30.6">l</tspan><tspan x="8.51" y="0.00" font-size="30.6">o</tspan><tspan x="27.25" y="0.00" font-size="30.6">g</tspan><tspan x="85.05" y="0.00" font-size="30.6">M</tspan><tspan x="163.48" y="0.00" font-size="30.6">[</tspan><tspan x="175.43" y="0.00" font-size="30.6">M</tspan><tspan x="229.31" y="0.00" font-size="30.6">]</tspan><tspan x="46.98" y="5.09" font-size="21.42">1</tspan><tspan x="60.62" y="5.09" font-size="21.42">0</tspan><tspan x="111.77" y="5.09" font-size="21.42">2</tspan><tspan x="125.41" y="5.09" font-size="21.42">0</tspan><tspan x="139.05" y="5.09" font-size="21.42">0</tspan><tspan x="206.33" y="5.09" font-size="21.42">⊙</tspan></text>
<text transform="translate(23.60,351.70) rotate(-90)" fill="#000"><tspan x="0.00" y="0.00" font-size="30.6">l</tspan><tspan x="8.51" y="0.00" font-size="30.6">o</tspan><tspan x="27.25" y="0.00" font-size="30.6">g</tspan><tspan x="85.05" y="0.00" font-size="30.6">M</tspan><tspan x="144.34" y="0.00" font-size="30.6">[</tspan><tspan x="156.28" y="0.00" font-size="30.6">M</tspan><tspan x="210.17" y="0.00" font-size="30.6">]</tspan><tspan x="46.98" y="5.09" font-size="21.42">1</tspan><tspan x="60.62" y="5.09" font-size="21.42">0</tspan><tspan x="115.95" y="5.09" font-size="21.42">⋆</tspan><tspan x="187.18" y="5.09" font-size="21.42">⊙</tspan></text>
<text transform="translate(764.10,369.50) rotate(-90)" fill="#000"><tspan x="0.00" y="0.14" font-size="30.6">l</tspan><tspan x="8.51" y="0.14" font-size="30.6">o</tspan><tspan x="27.25" y="0.14" font-size="30.6">g</tspan><tspan x="85.05" y="0.14" font-size="30.6">s</tspan><tspan x="101.01" y="0.14" font-size="30.6">S</tspan><tspan x="120.45" y="0.14" font-size="30.6">F</tspan><tspan x="138.06" y="0.14" font-size="30.6">R</tspan><tspan x="169.29" y="0.14" font-size="30.6">[</tspan><tspan x="181.23" y="0.14" font-size="30.6">y</tspan><tspan x="199.36" y="0.14" font-size="30.6">r</tspan><tspan x="244.69" y="0.14" font-size="30.6">]</tspan><tspan x="46.98" y="5.22" font-size="21.42">1</tspan><tspan x="60.62" y="5.22" font-size="21.42">0</tspan><tspan x="212.25" y="-11.73" font-size="21.42">−</tspan><tspan x="230.21" y="-11.73" font-size="21.42">1</tspan></text>
<text transform="translate(1504.50,356.20) rotate(-90)" fill="#000"><tspan x="0.00" y="0.00" font-size="30.6">l</tspan><tspan x="8.51" y="0.00" font-size="30.6">o</tspan><tspan x="27.25" y="0.00" font-size="30.6">g</tspan><tspan x="85.05" y="0.00" font-size="30.6">M</tspan><tspan x="153.39" y="0.00" font-size="30.6">[</tspan><tspan x="165.34" y="0.00" font-size="30.6">M</tspan><tspan x="219.22" y="0.00" font-size="30.6">]</tspan><tspan x="46.98" y="5.09" font-size="21.42">1</tspan><tspan x="60.62" y="5.09" font-size="21.42">0</tspan><tspan x="111.77" y="5.09" font-size="21.42">B</tspan><tspan x="126.48" y="5.09" font-size="21.42">H</tspan><tspan x="196.23" y="5.09" font-size="21.42">⊙</tspan></text>
<rect x="307.1" y="343.4" width="387.4" height="121.8" rx="4.4" ry="4.4" fill="#fff" fill-opacity="0.8" stroke="#333" stroke-width="2"/>
<circle cx="344.7" cy="364.5" r="3.7" fill="#1f77b4"/>
<circle cx="344.7" cy="403" r="3.7" fill="#ff7f0e"/>
<circle cx="344.7" cy="440.2" r="3.7" fill="#2ca02c"/>
<g font-size="26.5" fill="#000">
<text x="392" y="372.5">TNG100</text><text x="392" y="411">Eagle</text><text x="392" y="448.2">Simba</text>
<text x="627.4" y="372.8">MW</text><text x="627.4" y="411.2">M31</text>
</g>
<path d="M579.10,348.80 L575.51,359.86 L563.88,359.86 L573.29,366.69 L569.70,377.74 L579.10,370.91 L588.50,377.74 L584.91,366.69 L594.32,359.86 L582.69,359.86 Z" fill="#9467bd" stroke="#000" stroke-width="2.0" stroke-linejoin="bevel"/>
<path d="M579.10,387.00 L575.51,398.06 L563.88,398.06 L573.29,404.89 L569.70,415.94 L579.10,409.11 L588.50,415.94 L584.91,404.89 L594.32,398.06 L582.69,398.06 Z" fill="#d62728" stroke="#000" stroke-width="2.0" stroke-linejoin="bevel"/>
</svg></body></html>
